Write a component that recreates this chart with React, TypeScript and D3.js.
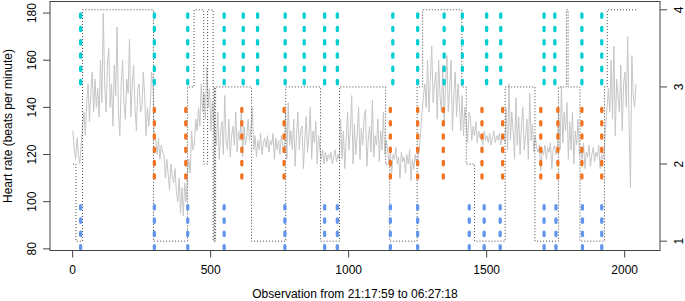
import React from "react";
import * as d3 from "d3";

const hrStep = 5;
const heartRate = [
  130, 122, 118, 127, 120, 116, 124, 132, 138, 128, 142, 150, 134, 146, 155, 138, 152, 140, 148, 136,
  160, 142, 180, 150, 138, 158, 165, 140, 150, 132, 158, 145, 174, 138, 128, 150, 160, 142, 135, 152,
  146, 169, 136, 150, 158, 140, 130, 148, 150, 138, 140, 155, 145, 128, 140, 132, 140, 155, 150, 128,
  126, 120, 127, 118, 124, 121, 120, 110, 118, 112, 105, 116, 111, 108, 114, 104, 100, 110, 95, 106,
  94, 108, 100, 112, 118, 112, 130, 122, 124, 135, 130, 140, 132, 150, 138, 146, 135, 157, 140, 148,
  130, 142, 135, 128, 124, 138, 118, 130, 134, 120, 145, 126, 122, 135, 119, 128, 132, 124, 138, 121,
  130, 126, 138, 119, 132, 124, 128, 135, 126, 131, 140, 122, 128, 119, 126, 122, 129, 120, 125, 127,
  123, 128, 121, 126, 124, 129, 118, 127, 122, 126, 120, 128, 124, 121, 138, 118, 142, 124, 130, 122,
  135, 115, 128, 138, 122, 130, 132, 114, 126, 136, 121, 128, 140, 118, 130, 125, 134, 116, 128, 122,
  118, 122, 116, 121, 117, 120, 118, 121, 116, 119, 122, 117, 120, 118, 135, 118, 130, 114, 126, 138,
  122, 130, 145, 116, 133, 120, 128, 140, 118, 131, 124, 136, 139, 115, 126, 132, 121, 143, 119, 128,
  124, 135, 117, 130, 122, 138, 120, 126, 122, 116, 121, 112, 120, 118, 123, 116, 119, 110, 121, 117,
  119, 112, 120, 116, 122, 109, 118, 114, 120, 116, 118, 122, 130, 138, 145, 150, 140, 160, 138, 152,
  166, 142, 150, 155, 135, 160, 145, 138, 158, 132, 150, 162, 138, 148, 160, 130, 145, 155, 136, 150,
  142, 130, 145, 128, 140, 134, 125, 138, 136, 126, 132, 128, 134, 125, 130, 127, 127, 124, 130, 126,
  128, 125, 129, 124, 127, 130, 125, 128, 126, 129, 124, 127, 128, 125, 140, 122, 150, 126, 138, 130,
  118, 144, 124, 136, 120, 132, 140, 122, 128, 135, 118, 146, 126, 133, 121, 128, 123, 121, 124, 113,
  122, 120, 124, 118, 123, 121, 125, 114, 122, 124, 120, 123, 140, 122, 149, 125, 138, 130, 142, 118,
  134, 122, 138, 116, 130, 124, 135, 120, 122, 118, 125, 114, 121, 119, 124, 115, 120, 123, 117, 121,
  119, 124, 114, 120, 118, 122, 132, 140, 148, 138, 160, 135, 166, 128, 152, 145, 138, 158, 130, 150,
  155, 140, 170, 132, 106, 162, 145, 140, 150,
];

// Hidden-state step function (right axis)
const stateStart = [1, 12, 36, 293, 416, 440, 475, 489, 509, 513, 515, 518, 648, 772, 898, 967, 1134, 1149, 1248, 1268, 1410, 1426, 1456, 1567, 1675, 1760, 1789, 1795, 1838, 1927, 1937];
const stateLevel = [2, 1, 4, 1, 3, 4, 2, 4, 1, 3, 1, 3, 1, 3, 1, 3, 2, 1, 3, 4, 3, 2, 1, 3, 1, 3, 4, 3, 1, 3, 4];
const stateEnd = 2041;

// Vertical marker positions (observation index)
const cyanLines = [29, 296, 417, 549, 618, 670, 770, 839, 913, 959, 1160, 1250, 1346, 1412, 1500, 1551, 1708, 1747, 1845, 1917];
const orangeLines = [296, 410, 613, 766, 1151, 1250, 1343, 1483, 1558, 1696, 1758, 1845, 1917];
const blueLines = [29, 296, 417, 549, 769, 913, 959, 1151, 1250, 1437, 1491, 1549, 1708, 1751, 1847, 1917];

const xTicks = [0, 500, 1000, 1500, 2000];
const yTicks = [80, 100, 120, 140, 160, 180];
const stateTicks = [1, 2, 3, 4];

const W = 685, H = 301;
const L = 50, R = 660, T = 1.5, B = 250.5;
const font = "Liberation Sans, Arial, Helvetica, sans-serif";

export default function App() {
  const x = d3.scaleLinear().domain([-82, 2128]).range([L, R]);
  const y = d3.scaleLinear().domain([79.3, 184.9]).range([B, T]);
  const ys = d3.scaleLinear().domain([0.879, 4.108]).range([B, T]);

  const hrPts = heartRate.map((v, i) => [1 + i * hrStep, v] as [number, number]);
  const hrPath = d3.line<[number, number]>().x(d => x(d[0])).y(d => y(d[1]))(hrPts) || "";

  const stPts: [number, number][] = stateStart.map((s, i) => [s, stateLevel[i]]);
  stPts.push([stateEnd, stateLevel[stateLevel.length - 1]]);
  const stPath = d3.line<[number, number]>().x(d => x(d[0])).y(d => ys(d[1])).curve(d3.curveStepAfter)(stPts) || "";

  const marker = (vals: number[], lo: number, hi: number, color: string, key: string) =>
    vals.map((v, i) => (
      <line key={key + i} x1={x(v)} x2={x(v)} y1={y(lo)} y2={y(hi)} stroke={color}
        strokeWidth={3.3} strokeDasharray="3.3 10" strokeLinecap="round" />
    ));

  return (
    <svg width={W} height={H} style={{ position: "absolute", left: 0, top: 0, background: "#fff" }} fontFamily={font}>
      <path d={hrPath} fill="none" stroke="#c6c6c6" strokeWidth={1} />
      <path d={stPath} fill="none" stroke="#444" strokeWidth={1} strokeDasharray="1 2" />
      {marker(cyanLines, 150, 180, "#00CED1", "c")}
      {marker(orangeLines, 110, 140, "#F0731F", "o")}
      {marker(blueLines, 80, 100, "#6495ED", "b")}
      <rect x={L} y={T} width={R - L} height={B - T} fill="none" stroke="#444" strokeWidth={1} />
      {/* bottom axis */}
      <line x1={x(0)} x2={x(2000)} y1={B} y2={B} stroke="#444" />
      {xTicks.map(t => (
        <g key={"xt" + t}>
          <line x1={x(t)} x2={x(t)} y1={B} y2={B + 7} stroke="#444" />
          <text x={x(t)} y={274} textAnchor="middle" fontSize={12}>{t}</text>
        </g>
      ))}
      {/* left axis */}
      {yTicks.map(t => (
        <g key={"yt" + t}>
          <line x1={L - 7} x2={L} y1={y(t)} y2={y(t)} stroke="#444" />
          <text transform={`translate(36,${y(t)}) rotate(-90)`} textAnchor="middle" fontSize={12}>{t}</text>
        </g>
      ))}
      {/* right axis */}
      {stateTicks.map(t => (
        <g key={"st" + t}>
          <line x1={R} x2={R + 7} y1={ys(t)} y2={ys(t)} stroke="#444" />
          <text transform={`translate(683,${ys(t)}) rotate(-90)`} textAnchor="middle" fontSize={12}>{t}</text>
        </g>
      ))}
      <text transform={`translate(12,${(T + B) / 2}) rotate(-90)`} textAnchor="middle" fontSize={12}>Heart rate (beats per minute)</text>
      <text x={(L + R) / 2} y={297.5} textAnchor="middle" fontSize={12}>Observation from 21:17:59 to 06:27:18</text>
    </svg>
  );
}
